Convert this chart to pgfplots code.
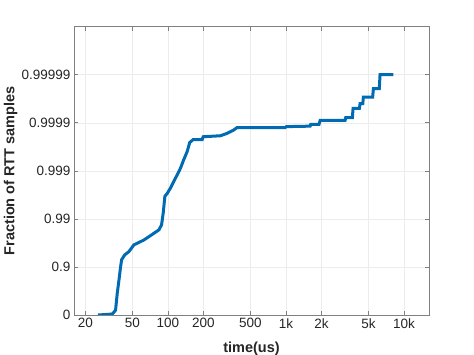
\documentclass[border=0pt]{standalone}
\usepackage{pgfplots}
\pgfplotsset{compat=1.18}
\usepackage{fontspec}
\setmainfont{Liberation Sans}
\definecolor{mblue}{rgb}{0,0.42,0.70}
\definecolor{framegray}{gray}{0.5}
\definecolor{txtgray}{gray}{0.15}
\begin{document}
\begin{tikzpicture}
\path[use as bounding box] (-74pt,-40pt) rectangle (400pt,315pt);
\begin{axis}[
  at={(0,0)}, anchor=south west,
  scale only axis, width=355pt, height=288.3pt,
  xmode=log, xmin=16, xmax=16300, ymin=0, ymax=6,
  xtick={20,50,100,200,500,1000,2000,5000,10000},
  xticklabels={20,50,100,200,500,1k,2k,5k,10k},
  ytick={0,1,2,3,4,5},
  yticklabels={0,0.9,0.99,0.999,0.9999,0.99999},
  minor tick num=0, minor xtick={},
  tick align=inside, major tick length=4pt,
  every tick/.style={framegray, line width=0.6pt},
  axis line style={framegray, line width=0.8pt},
  grid=major, major grid style={gray!15, line width=0.5pt},
  ticklabel style={font=\fontsize{13.5}{15}\selectfont, text=txtgray},
  /pgf/number format/assume math mode=true,
  xlabel={\textbf{time(us)}}, ylabel={\textbf{Fraction of RTT samples}},
  label style={font=\fontsize{14.5}{16}\selectfont, text=txtgray},
  xlabel style={at={(axis description cs:0.5,0)}, anchor=north, yshift=-23pt},
  ylabel style={at={(axis description cs:0,0.5)}, anchor=south, xshift=0pt, yshift=53pt},
  xtick pos=both, ytick pos=both,
]
\addplot[mblue, line width=3pt, line join=miter] coordinates {
(25.5,0) (33.8,0.02) (36,0.1) (37.2,0.45) (38.5,0.73) (39.7,1.0) (40.5,1.15)
(43,1.25) (46.7,1.32) (51.5,1.46) (56.8,1.51) (62.5,1.56) (69,1.63) (76,1.70)
(83.8,1.77) (88.3,1.875) (91.2,2.12) (94.2,2.47) (98.6,2.53) (105,2.64)
(112,2.78) (120,2.92) (128,3.06) (136,3.23) (145.5,3.40) (153,3.59)
(163.6,3.65) (195,3.65) (199,3.71) (278.5,3.73) (317,3.78) (361,3.85)
(385,3.90) (986,3.90) (1007,3.92) (1603,3.93) (1622,3.965) (1905,3.965)
(1949,4.05) (3170,4.05) (3213,4.11) (3656,4.11) (3706,4.30) (4190,4.30)
(4250,4.40) (4480,4.40) (4530,4.535) (5430,4.535) (5510,4.71) (6180,4.71)
(6270,5.0) (8130,5.0)
};
\end{axis}
\end{tikzpicture}
\end{document}
